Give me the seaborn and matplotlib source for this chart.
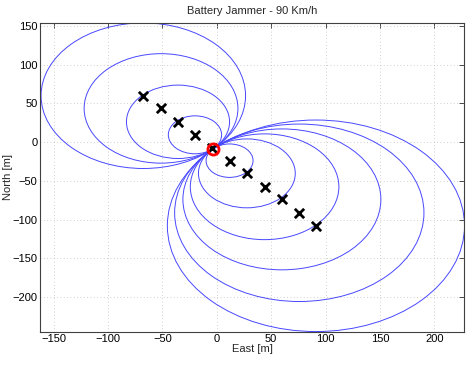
import numpy as np
import seaborn as sns
import matplotlib.pyplot as plt
from matplotlib.patches import Circle

# Vehicle positions (East, North)
east = [-67.5, -51.2, -35.6, -20.0, -4.1, 11.8, 27.7, 44.0, 59.9, 75.9, 91.2]
north = [59.9, 43.5, 26.2, 9.4, -8.1, -24.0, -40.4, -57.7, -74.0, -91.3, -108.1]
# Radius of the loop drawn round each position (0 = no loop)
radius = [94.0, 70.7, 47.4, 24.5, 0.0, 21.6, 44.5, 68.3, 91.0, 114.6, 136.6]

# Jammer position
jam_east = [-3.2]
jam_north = [-8.6]

xticks = [-150, -100, -50, 0, 50, 100, 150, 200]
yticks = [-200, -150, -100, -50, 0, 50, 100, 150]

sns.set_style('white')
plt.rcParams['font.family'] = ['Liberation Sans', 'DejaVu Sans']

fig = plt.figure(figsize=(4.74, 3.68), dpi=100)
ax = fig.add_axes([40.3 / 474, 1 - 331.7 / 368, 424 / 474, 309 / 368])

# loops
for cx, cy, r in zip(east, north, radius):
    if r > 0:
        ax.add_patch(Circle((cx, cy), r, fill=False, edgecolor='#4848ff',
                            linewidth=0.7, zorder=2))

sns.scatterplot(x=east, y=north, marker='x', color='k', s=45,
                linewidth=2.0, ax=ax, zorder=3)
ax.plot(jam_east, jam_north, 'o', mfc='none', mec='red', ms=8, mew=2, zorder=4)

ax.set_xlim(-162.2, 227.6)
ax.set_ylim(-244.9, 154.2)
ax.set_xticks(xticks)
ax.set_yticks(yticks)
ax.grid(True, linestyle=(0, (1, 3)), color='#c0c0c0', linewidth=0.6)
ax.tick_params(direction='in', length=3.5, width=0.6, labelsize=8,
               top=True, right=True, colors='#303030', labelcolor='k', pad=2)
for s in ax.spines.values():
    s.set_color('#404040')
    s.set_linewidth(0.8)

ax.set_title('Battery Jammer - 90 Km/h', fontsize=8, pad=6)
ax.set_xlabel('East [m]', fontsize=8, labelpad=0)
ax.set_ylabel('North [m]', fontsize=8, labelpad=0)

fig.savefig('out.png', dpi=100)
